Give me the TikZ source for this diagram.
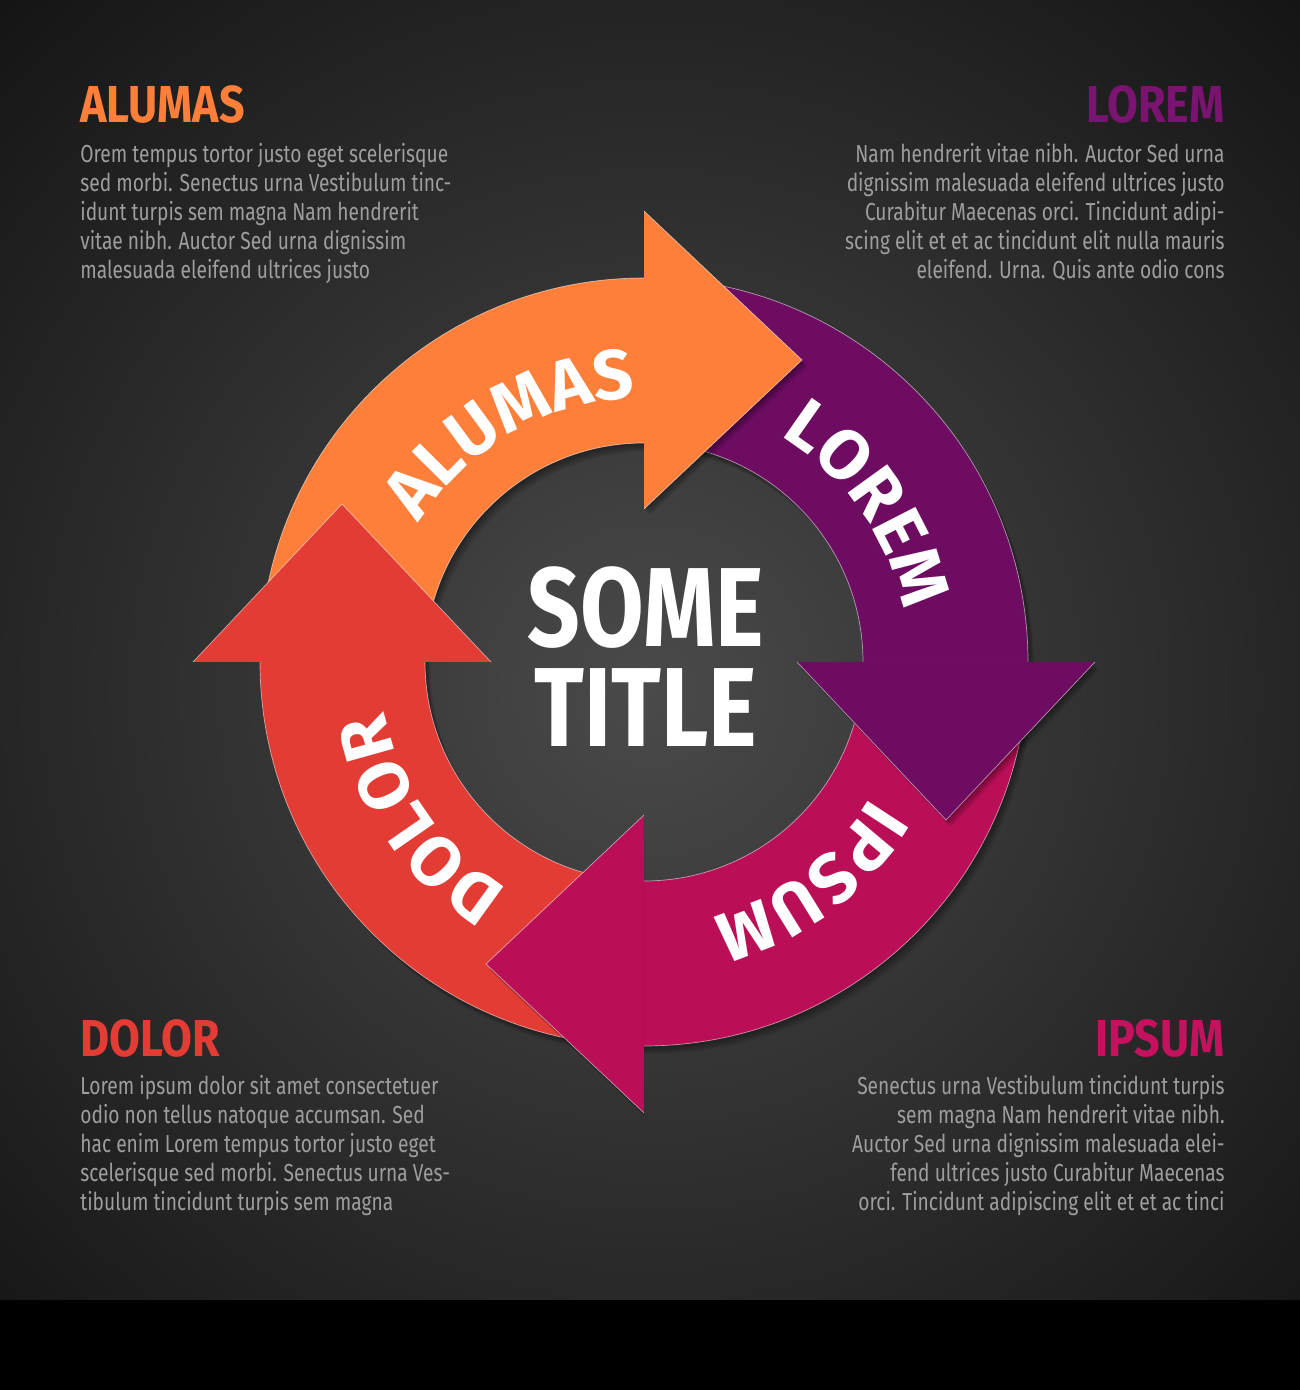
\documentclass[tikz,border=0pt]{standalone}
\usepackage{fontspec}
\setmainfont{Fira Sans}
\newfontfamily\bodyfont{Fira Sans}[FakeStretch=0.78]
\newfontfamily\headfont{Fira Sans}[FakeStretch=0.86]
\newfontfamily\titlefont{Fira Sans}[FakeStretch=0.82]
\usetikzlibrary{decorations.text}
\definecolor{bgin}{RGB}{74,74,74}
\definecolor{bgout}{RGB}{20,20,20}
\definecolor{alumas}{RGB}{253,127,57}
\definecolor{lorem}{RGB}{110,12,98}
\definecolor{ipsum}{RGB}{186,15,87}
\definecolor{dolor}{RGB}{226,60,52}
\definecolor{loremhead}{RGB}{122,20,112}
\definecolor{ipsumhead}{RGB}{196,18,94}
\definecolor{bodygray}{RGB}{158,158,158}

\begin{document}
\begin{tikzpicture}[x=0.02cm, y=0.02cm,
  headtext/.style={inner sep=0pt, font=\headfont\bfseries\fontsize{29.6}{34}\selectfont},
  bodytext/.style={inner sep=0pt, text=bodygray, font=\bodyfont\fontsize{14}{16.5}\selectfont},
  titletext/.style={inner sep=0pt, align=center, text=white, font=\titlefont\bfseries\fontsize{64}{57}\selectfont},
  rim/.style={white, opacity=0.55, line width=0.4pt},
  dropshade/.style={black, opacity=0.07},
  bandtext/.style={decorate, decoration={text along path, text align=center,
    text={|\color{white}\bfseries\fontsize{40}{48}\selectfont|#1}}}]
\useasboundingbox (0,0) rectangle (1300,1390);
% background
\fill[bgout] (0,0) rectangle (1300,1390);
\begin{scope}
  \clip (0,90) rectangle (1300,1390);
  \shade[inner color=bgin, outer color=bgout] (650,700) circle[radius=960];
\end{scope}
\fill[black] (0,0) rectangle (1300,90);
\coordinate (c) at (644,728);

% ring shadow
\foreach \w in {2,4,...,12}
  \fill[dropshade, even odd rule] ([shift={(0.5*\w,-0.7*\w)}]c) circle[radius=384] circle[radius=219];

% bands
\begin{scope}[shift={(c)}]
  \fill[alumas] (180:384) arc[start angle=180, end angle=90, radius=384] -- (90:219) arc[start angle=90, end angle=180, radius=219] -- cycle;
  \fill[lorem] (90:384) arc[start angle=90, end angle=0, radius=384] -- (0:219) arc[start angle=0, end angle=90, radius=219] -- cycle;
  \fill[ipsum] (0:384) arc[start angle=0, end angle=-90, radius=384] -- (-90:219) arc[start angle=-90, end angle=0, radius=219] -- cycle;
  \fill[dolor] (-90:384) arc[start angle=-90, end angle=-180, radius=384] -- (-180:219) arc[start angle=-180, end angle=-90, radius=219] -- cycle;
  \draw[rim] (0,0) circle[radius=384];
  \draw[rim] (0,0) circle[radius=219];
\end{scope}

% arrow heads
\begin{scope}[shift={(c)}, rotate=0]
  \begin{scope}
    \clip (0,100) rectangle (400,520);
    \foreach \s in {1,...,6}
      \fill[dropshade, shift={(0.8*\s,-1.2*\s)}] (0,153) -- (158,302) -- (0,451) -- cycle;
  \end{scope}
  \fill[alumas] (0,153) -- (158,302) -- (0,451) -- cycle;
  \draw[rim] (0,153) -- (158,302) -- (0,451);
\end{scope}
\begin{scope}[shift={(c)}, rotate=-90]
  \begin{scope}
    \clip (0,100) rectangle (400,520);
    \foreach \s in {1,...,6}
      \fill[dropshade, shift={(1.2*\s,0.8*\s)}] (0,153) -- (158,302) -- (0,451) -- cycle;
  \end{scope}
  \fill[lorem] (0,153) -- (158,302) -- (0,451) -- cycle;
  \draw[rim] (0,153) -- (158,302) -- (0,451);
\end{scope}
\begin{scope}[shift={(c)}, rotate=-180]
  \begin{scope}
    \clip (0,100) rectangle (400,520);
    \foreach \s in {1,...,6}
      \fill[dropshade, shift={(-0.8*\s,1.2*\s)}] (0,153) -- (158,302) -- (0,451) -- cycle;
  \end{scope}
  \fill[ipsum] (0,153) -- (158,302) -- (0,451) -- cycle;
  \draw[rim] (0,153) -- (158,302) -- (0,451);
\end{scope}
\begin{scope}[shift={(c)}, rotate=90]
  \begin{scope}
    \clip (0,100) rectangle (400,520);
    \foreach \s in {1,...,6}
      \fill[dropshade, shift={(-1.2*\s,-0.8*\s)}] (0,153) -- (158,302) -- (0,451) -- cycle;
  \end{scope}
  \fill[dolor] (0,153) -- (158,302) -- (0,451) -- cycle;
  \draw[rim] (0,153) -- (158,302) -- (0,451);
\end{scope}

% band labels
\begin{scope}[shift={(c)}]
  \path[bandtext=ALUMAS] (165:264) arc[start angle=165, end angle=75, radius=264];
  \path[bandtext=LOREM] (80:264) arc[start angle=80, end angle=-10, radius=264];
  \path[bandtext=IPSUM] (-8:264) arc[start angle=-8, end angle=-98, radius=264];
  \path[bandtext=DOLOR] (260:264) arc[start angle=260, end angle=170, radius=264];
\end{scope}

\node[titletext] (title) at (646,733) {SOME\\TITLE};

% corner texts
\node[headtext, anchor=base west, text=alumas] (h1) at (80,1267) {ALUMAS};
\node[bodytext, anchor=north west, align=left] (p1) at (80,1247) {Orem tempus tortor justo eget scelerisque\\sed morbi. Senectus urna Vestibulum tinc-\\idunt turpis sem magna Nam hendrerit\\vitae nibh. Auctor Sed urna dignissim\\malesuada eleifend ultrices justo};
\node[headtext, anchor=base east, text=loremhead] (h2) at (1225,1267) {LOREM};
\node[bodytext, anchor=north east, align=right] (p2) at (1225,1247) {Nam hendrerit vitae nibh. Auctor Sed urna\\dignissim malesuada eleifend ultrices justo\\Curabitur Maecenas orci. Tincidunt adipi-\\scing elit et et ac tincidunt elit nulla mauris\\eleifend. Urna. Quis ante odio cons};
\node[headtext, anchor=base west, text=dolor] (h3) at (80,333) {DOLOR};
\node[bodytext, anchor=north west, align=left] (p3) at (80,315) {Lorem ipsum dolor sit amet consectetuer\\odio non tellus natoque accumsan. Sed\\hac enim Lorem tempus tortor justo eget\\scelerisque sed morbi. Senectus urna Ves-\\tibulum tincidunt turpis sem magna};
\node[headtext, anchor=base east, text=ipsumhead] (h4) at (1225,333) {IPSUM};
\node[bodytext, anchor=north east, align=right] (p4) at (1225,315) {Senectus urna Vestibulum tincidunt turpis\\sem magna Nam hendrerit vitae nibh.\\Auctor Sed urna dignissim malesuada elei-\\fend ultrices justo Curabitur Maecenas\\orci. Tincidunt adipiscing elit et et ac tinci};
\end{tikzpicture}
\end{document}
